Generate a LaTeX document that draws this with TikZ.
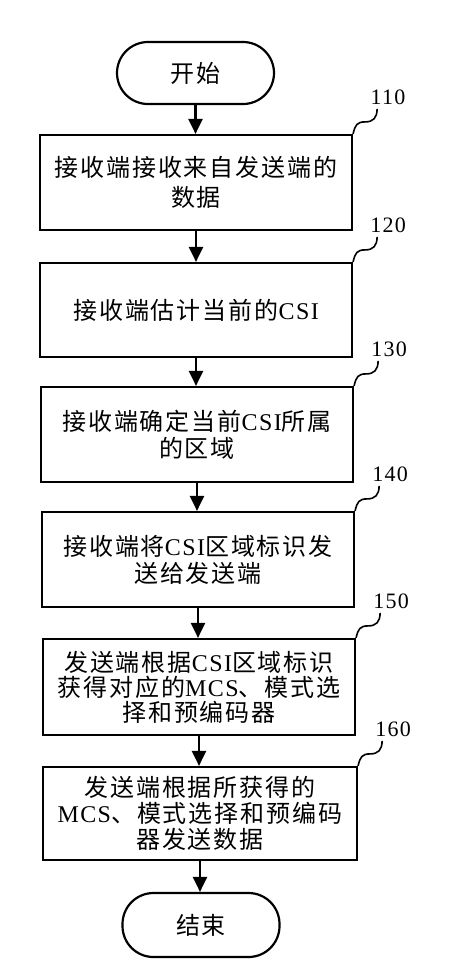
\documentclass[tikz,border=0pt]{standalone}
\usepackage{fontspec}
\setmainfont{Liberation Serif}
\newfontfamily\cjk{Noto Sans CJK SC}[LetterSpace=8]
\newfontfamily\lat{Liberation Serif}[LetterSpace=6]
\usetikzlibrary{arrows.meta,calc}
\newcommand{\leadlab}[2]{%
  \node[numlab] (#1l) at ($(#1.north east)+(35,-37)$) {#2};
  \draw[leader] (#1.north east) .. controls +(2,-9) and +(-8,0) .. ($(#1.north east)+(12,-12)$)
     .. controls +(8,0) and +(0,9) .. ($(#1.north east)+(24,-25)$);
}
\begin{document}
\begin{tikzpicture}[x=1pt,y=-1pt,
  box/.style={draw,line width=2.2pt,minimum width=312pt,minimum height=95pt,inner sep=0pt,align=center,font=\fontsize{24}{27}\selectfont\cjk},
  term/.style={draw,line width=2.2pt,rounded corners=31pt,minimum width=157pt,minimum height=62pt,inner sep=0pt,font=\fontsize{24}{27}\selectfont\cjk},
  flow/.style={line width=2.2pt,-{Triangle[width=14pt,length=15pt]}},
  leader/.style={line width=1.6pt},
  numlab/.style={font=\fontsize{22}{22}\selectfont\lat,inner sep=0pt}]
\useasboundingbox (0,0) rectangle (474,978);
\fill[white] (0,0) rectangle (474,978);

\node[term] (s) at (195.5,73) {开始};
\node[box] (b1) at (196,182.5) {接收端接收来自发送端的\\[3pt]数据};
\node[box,minimum height=94pt] (b2) at (196,310) {接收端估计当前的{\lat CSI}};
\node[box] (b3) at (197,434.5) {接收端确定当前{\lat CSI}所属\\的区域};
\node[box] (b4) at (198,559.5) {接收端将{\lat CSI}区域标识发\\送给发送端};
\node[box,minimum height=96pt,font=\fontsize{24}{25}\selectfont\cjk] (b5) at (199,687) {发送端根据{\lat CSI}区域标识\\获得对应的{\lat MCS}、模式选\\择和预编码器};
\node[box,minimum width=314pt,minimum height=93pt,font=\fontsize{24}{26}\selectfont\cjk] (b6) at (200,813.5) {发送端根据所获得的\\{\lat MCS}、模式选择和预编码\\器发送数据};
\node[term,minimum height=64pt] (e) at (201,925) {结束};

\draw[flow] (s.south) -- (s.south |- b1.north);
\draw[flow] (b1.south) -- (b1.south |- b2.north);
\draw[flow] (b2.south) -- (b2.south |- b3.north);
\draw[flow] (b3.south) -- (b3.south |- b4.north);
\draw[flow] (b4.south) -- (b4.south |- b5.north);
\draw[flow] (b5.south) -- (b5.south |- b6.north);
\draw[flow] (b6.south) -- (b6.south |- e.north);

\leadlab{b1}{110}
\leadlab{b2}{120}
\leadlab{b3}{130}
\leadlab{b4}{140}
\leadlab{b5}{150}
\leadlab{b6}{160}
\end{tikzpicture}
\end{document}
